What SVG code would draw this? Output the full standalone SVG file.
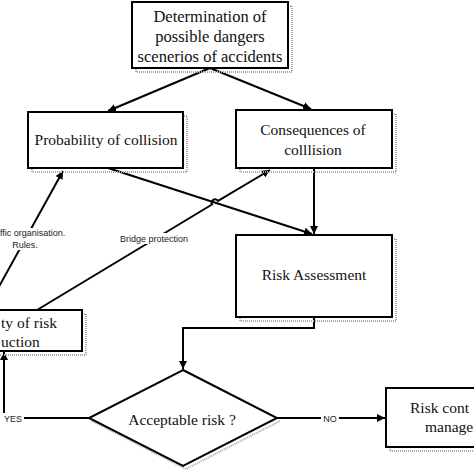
<svg xmlns="http://www.w3.org/2000/svg" width="474" height="474" viewBox="0 0 474 474">
<defs>
<marker id="ah" viewBox="0 0 10 10" refX="10" refY="5" markerWidth="8" markerHeight="8" markerUnits="userSpaceOnUse" orient="auto">
<path d="M0,0 L10,5 L0,10 z" fill="#000"/>
</marker>
</defs>
<style>
.box{fill:#fff;stroke:#000;stroke-width:2}
.sh{fill:none;stroke:#aaa;stroke-width:2;stroke-dasharray:1 1}
.t{font-family:"Liberation Serif","Times New Roman",serif;font-size:15.5px;fill:#111}
.tt{font-family:"Liberation Serif","Times New Roman",serif;font-size:16.5px;fill:#111}
.lbl{font-family:"Liberation Sans",Arial,sans-serif;font-size:9px;fill:#222}
.c{fill:none;stroke:#000;stroke-width:2}
</style>
<rect width="474" height="474" fill="#fff"/>
<g id="connectors">
<line class="c" x1="210" y1="68" x2="108" y2="111" marker-end="url(#ah)"/>
<line class="c" x1="210" y1="68" x2="311" y2="109" marker-end="url(#ah)"/>
<line class="c" x1="314" y1="168" x2="314" y2="234" marker-end="url(#ah)"/>
<line class="c" x1="108" y1="168" x2="312" y2="234" marker-end="url(#ah)"/>
<polyline class="c" points="314,317 314,328 183,328 183,369" marker-end="url(#ah)"/>
<line class="c" x1="277" y1="418" x2="385" y2="418" marker-end="url(#ah)"/>
<polyline class="c" points="89,418 4,418 4,352" marker-end="url(#ah)"/>
<line class="c" x1="-14" y1="310" x2="63" y2="171" marker-end="url(#ah)"/>
<path class="c" d="M37,310 L212,204.5 A3.5,3.5 0 0 1 218,200.9 L270,170" marker-end="url(#ah)"/>
<rect x="-2" y="228" width="72" height="22" fill="#fff"/>
<text class="lbl" x="0" y="236">ffic organisation.</text>
<text class="lbl" x="25" y="248" text-anchor="middle">Rules.</text>
<rect x="118" y="233" width="72" height="11" fill="#fff"/>
<text class="lbl" x="154" y="242" text-anchor="middle">Bridge protection</text>
<rect x="321" y="413" width="18" height="10" fill="#fff"/>
<text class="lbl" x="330" y="421.5" text-anchor="middle" font-size="8">NO</text>
<rect x="2" y="413" width="22" height="10" fill="#fff"/>
<text class="lbl" x="13" y="421.5" text-anchor="middle" font-size="8">YES</text>
</g>
<g id="determination">
<rect class="sh" x="136" y="6" width="156" height="66"/>
<rect class="box" x="132" y="2" width="156" height="66"/>
<text class="tt" x="210" y="21.5" text-anchor="middle">Determination of</text>
<text class="tt" x="210" y="41.5" text-anchor="middle">possible dangers</text>
<text class="tt" x="210" y="61.5" text-anchor="middle">scenerios of accidents</text>
</g>
<g id="probability">
<rect class="sh" x="32" y="116" width="155" height="56"/>
<rect class="box" x="28" y="112" width="155" height="56"/>
<text class="t" x="106" y="145" text-anchor="middle">Probability of collision</text>
</g>
<g id="consequences">
<rect class="sh" x="240" y="114" width="156" height="58"/>
<rect class="box" x="236" y="110" width="156" height="58"/>
<text class="t" x="313" y="135" text-anchor="middle">Consequences of</text>
<text class="t" x="313" y="155" text-anchor="middle">colllision</text>
</g>
<g id="risk-assessment">
<rect class="sh" x="240" y="239" width="156" height="82"/>
<rect class="box" x="236" y="235" width="156" height="82"/>
<text class="t" x="314" y="280" text-anchor="middle">Risk Assessment</text>
</g>
<g id="risk-reduction">
<rect class="sh" x="-6" y="314" width="92" height="41"/>
<rect class="box" x="-10" y="310" width="92" height="41"/>
<text class="t" x="1" y="328">ty of risk</text>
<text class="t" x="1" y="347">uction</text>
</g>
<g id="acceptable">
<polyline class="sh" points="280,421 186,469 92,421"/>
<polygon class="box" points="183,370 277,418 183,466 89,418"/>
<text class="t" x="182" y="425" text-anchor="middle">Acceptable risk ?</text>
</g>
<g id="risk-control">
<rect class="sh" x="390" y="392" width="100" height="59"/>
<rect class="box" x="386" y="388" width="100" height="59"/>
<text class="t" x="410" y="413">Risk cont</text>
<text class="t" x="425" y="432">manage</text>
</g>
</svg>
